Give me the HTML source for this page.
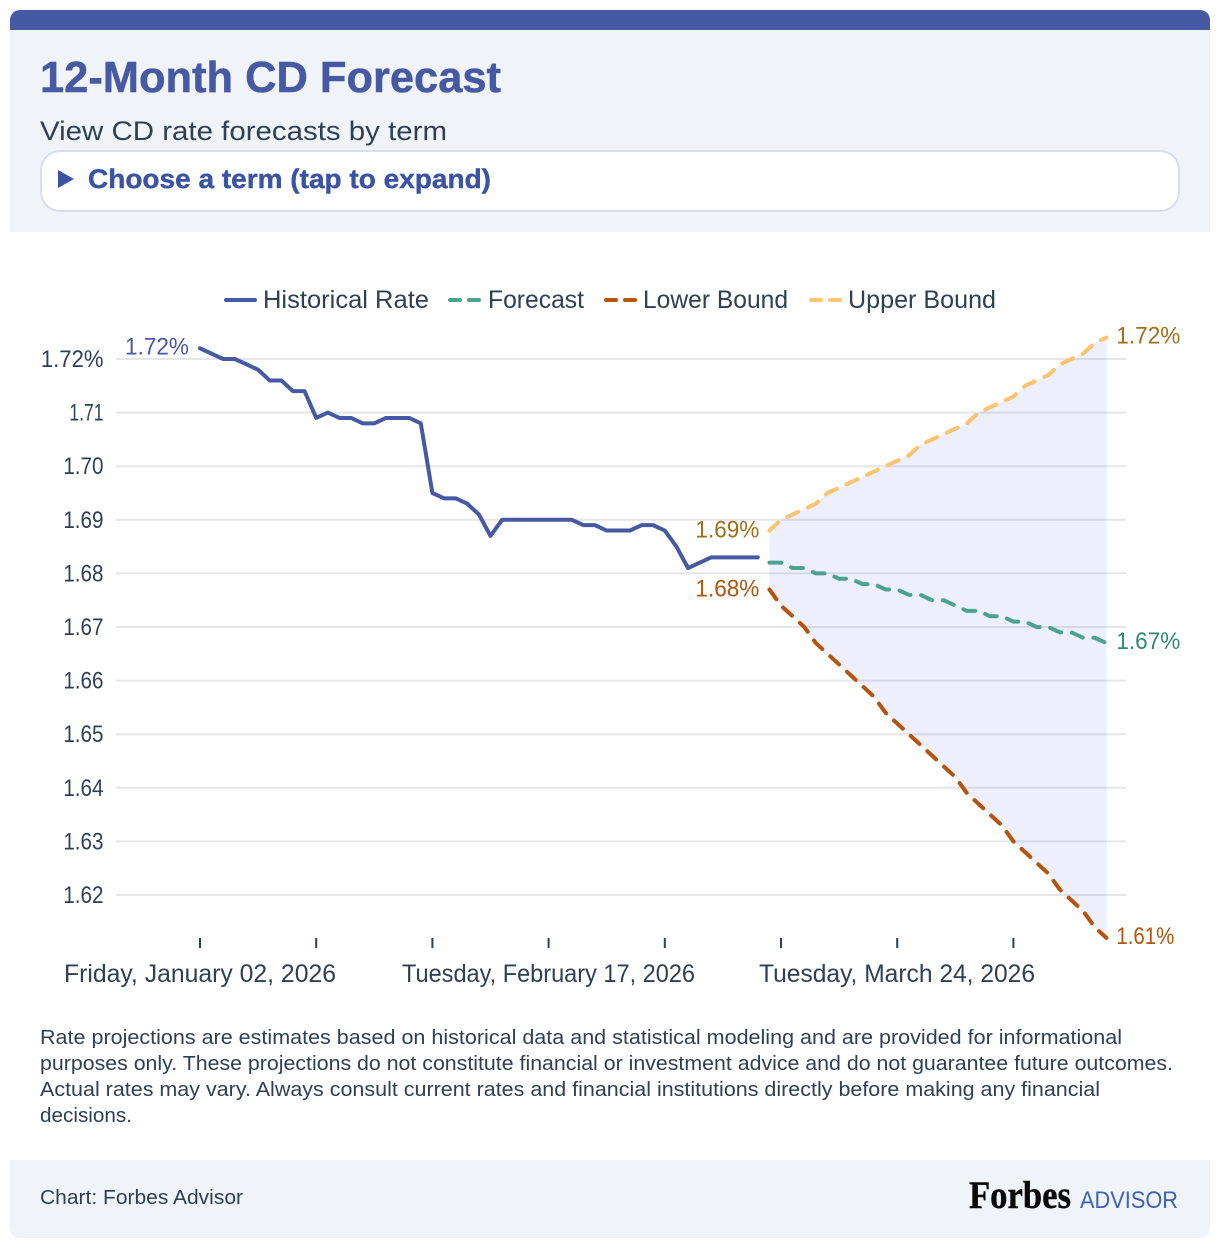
<!DOCTYPE html>
<html lang="en">
<head>
<meta charset="utf-8">
<title>12-Month CD Forecast</title>
<style>
html,body{margin:0;padding:0;background:#fff;width:1220px;height:1248px;overflow:hidden}
body{position:relative;font-family:"Liberation Sans",sans-serif}
.abs{position:absolute;box-sizing:border-box}
svg{position:absolute;left:0;top:0}
text{font-family:"Liberation Sans",sans-serif}
</style>
</head>
<body>
<div class="abs" style="left:10px;top:10px;width:1200px;height:222px;background:#f0f3f8;border-radius:10px 10px 0 0;overflow:hidden">
  <div style="height:20px;background:#4659a3"></div>
</div>
<div class="abs" style="left:40px;top:150px;width:1140px;height:62px;background:#fff;border:2px solid #d9deec;border-radius:20px"></div>
<div class="abs" style="left:10px;top:1160px;width:1200px;height:78px;background:#f0f3f8;border-radius:0 0 10px 10px"></div>

<svg id="chart" width="1220" height="1248" viewBox="0 0 1220 1248">
  <text x="40" y="92" font-size="44" font-weight="700" fill="#4659a3" stroke="#4659a3" stroke-width="0.5" textLength="461" lengthAdjust="spacingAndGlyphs">12-Month CD Forecast</text>
  <text x="40" y="140" font-size="27" fill="#2f3f54" textLength="407" lengthAdjust="spacingAndGlyphs">View CD rate forecasts by term</text>
  <polygon points="58,170 74,179 58,188" fill="#3a53a4"/>
  <text x="88" y="188" font-size="27" font-weight="700" fill="#3a53a4" stroke="#3a53a4" stroke-width="0.4" textLength="403" lengthAdjust="spacingAndGlyphs">Choose a term (tap to expand)</text>

  <g id="grid-layer"></g>
  <g id="ytick-layer"></g>
  <g id="xtick-layer"></g>
  <g font-size="25" fill="#2f3f54" text-anchor="middle">
    <text x="200" y="982" textLength="272" lengthAdjust="spacingAndGlyphs">Friday, January 02, 2026</text>
    <text x="548.5" y="982" textLength="293" lengthAdjust="spacingAndGlyphs">Tuesday, February 17, 2026</text>
    <text x="897" y="982" textLength="276" lengthAdjust="spacingAndGlyphs">Tuesday, March 24, 2026</text>
  </g>
  <g id="mark-layer"></g>
  <g id="annotation-layer"></g>

  <g>
    <line x1="226" y1="300" x2="255" y2="300" stroke="#4659a3" stroke-width="4" stroke-linecap="round"/>
    <text x="263" y="308" font-size="25" fill="#2f3f54" textLength="166" lengthAdjust="spacingAndGlyphs">Historical Rate</text>
    <line x1="450" y1="300" x2="480" y2="300" stroke="#4aa38f" stroke-width="4" stroke-linecap="round" stroke-dasharray="10 9"/>
    <text x="488" y="308" font-size="25" fill="#2f3f54" textLength="96" lengthAdjust="spacingAndGlyphs">Forecast</text>
    <line x1="606" y1="300" x2="636" y2="300" stroke="#b5540c" stroke-width="4" stroke-linecap="round" stroke-dasharray="10 9"/>
    <text x="643" y="308" font-size="25" fill="#2f3f54" textLength="145" lengthAdjust="spacingAndGlyphs">Lower Bound</text>
    <line x1="811" y1="300" x2="841" y2="300" stroke="#fdc36e" stroke-width="4" stroke-linecap="round" stroke-dasharray="10 9"/>
    <text x="848" y="308" font-size="25" fill="#2f3f54" textLength="148" lengthAdjust="spacingAndGlyphs">Upper Bound</text>
  </g>

  <g font-size="20" fill="#2f3f54">
    <text x="40" y="1044" textLength="1082" lengthAdjust="spacingAndGlyphs">Rate projections are estimates based on historical data and statistical modeling and are provided for informational</text>
    <text x="40" y="1070" textLength="1133" lengthAdjust="spacingAndGlyphs">purposes only. These projections do not constitute financial or investment advice and do not guarantee future outcomes.</text>
    <text x="40" y="1096" textLength="1060" lengthAdjust="spacingAndGlyphs">Actual rates may vary. Always consult current rates and financial institutions directly before making any financial</text>
    <text x="40" y="1122" textLength="92" lengthAdjust="spacingAndGlyphs">decisions.</text>
  </g>

  <text x="40" y="1204" font-size="20" fill="#2f3f54" textLength="203" lengthAdjust="spacingAndGlyphs">Chart: Forbes Advisor</text>
  <text x="969" y="1208" font-size="39" font-weight="700" fill="#0a0a0a" stroke="#0a0a0a" stroke-width="0.4" textLength="102" lengthAdjust="spacingAndGlyphs" style="font-family:'Liberation Serif',serif">Forbes</text>
  <text x="1080" y="1208" font-size="24" fill="#3f62b5" textLength="98" lengthAdjust="spacingAndGlyphs">ADVISOR</text>
</svg>

<script>
const yTickValues = [1.72, 1.71, 1.70, 1.69, 1.68, 1.67, 1.66, 1.65, 1.64, 1.63, 1.62];
const yTickLabels = ["1.72%", "1.71", "1.70", "1.69", "1.68", "1.67", "1.66", "1.65", "1.64", "1.63", "1.62"];
const xTickIndices = [0, 10, 20, 30, 40, 50, 60, 70];

const historicalRate = [1.722, 1.721, 1.720, 1.720, 1.719, 1.718, 1.716, 1.716, 1.714, 1.714,
  1.709, 1.710, 1.709, 1.709, 1.708, 1.708, 1.709, 1.709, 1.709, 1.708,
  1.695, 1.694, 1.694, 1.693, 1.691, 1.687, 1.690, 1.690, 1.690, 1.690,
  1.690, 1.690, 1.690, 1.689, 1.689, 1.688, 1.688, 1.688, 1.689, 1.689,
  1.688, 1.685, 1.681, 1.682, 1.683, 1.683, 1.683, 1.683, 1.683];
const forecastRate = [1.682, 1.682, 1.681, 1.681, 1.680, 1.680, 1.679, 1.679, 1.678, 1.678,
  1.677, 1.677, 1.676, 1.676, 1.675, 1.675, 1.674, 1.673, 1.673, 1.672,
  1.672, 1.671, 1.671, 1.670, 1.670, 1.669, 1.669, 1.668, 1.668, 1.667];
const lowerBound = [1.677, 1.674, 1.672, 1.670, 1.667, 1.665, 1.663, 1.661, 1.659, 1.657,
  1.654, 1.652, 1.650, 1.648, 1.646, 1.644, 1.642, 1.639, 1.637, 1.635,
  1.633, 1.630, 1.628, 1.626, 1.624, 1.621, 1.619, 1.617, 1.614, 1.612];
const upperBound = [1.688, 1.690, 1.691, 1.692, 1.693, 1.695, 1.696, 1.697, 1.698, 1.699,
  1.700, 1.701, 1.702, 1.704, 1.705, 1.706, 1.707, 1.708, 1.710, 1.711,
  1.712, 1.713, 1.715, 1.716, 1.717, 1.719, 1.720, 1.721, 1.723, 1.724];

const NS = "http://www.w3.org/2000/svg";
const xScale = function (i) { return 200 + i * 11.62; };
const yScale = function (v) { return 359 + (1.72 - v) * 5360; };
const forecastOffset = historicalRate.length;

function make(tag, parentId) {
  const el = document.createElementNS(NS, tag);
  document.getElementById(parentId).appendChild(el);
  return el;
}
function pathFrom(values, offset) {
  return values.map(function (v, i) {
    return (i ? "L" : "M") + xScale(i + offset).toFixed(2) + " " + yScale(v).toFixed(2);
  }).join(" ");
}
/* The original face has a narrow numeral 1; each repeated "1" tightens the label. */
function fittedWidth(el, factor) {
  const ones = el.textContent.split("1").length - 1;
  return el.getComputedTextLength() * factor - 6 * Math.max(0, ones - 1);
}

yTickValues.forEach(function (v, i) {
  const line = make("line", "grid-layer");
  
  
  line.setAttribute("x1", 116);
  line.setAttribute("x2", 1126);
  line.setAttribute("y1", yScale(v));
  line.setAttribute("y2", yScale(v));
  line.setAttribute("stroke", "#e6e6e8");
  line.setAttribute("stroke-width", 2);

  const label = make("text", "ytick-layer");
  
  
  label.setAttribute("y", yScale(v) + 8);
  label.setAttribute("font-size", 24);
  label.setAttribute("fill", "#2f3f54");
  label.textContent = yTickLabels[i];
  const w = fittedWidth(label, yTickLabels[i].length > 4 ? 0.92 : 0.86);
  label.setAttribute("x", 103.5 - w);
  label.setAttribute("textLength", w);
  label.setAttribute("lengthAdjust", "spacingAndGlyphs");
});

xTickIndices.forEach(function (i) {
  const tick = make("line", "xtick-layer");
  
  
  const tx = xScale(i);
  tick.setAttribute("x1", tx);
  tick.setAttribute("x2", tx);
  tick.setAttribute("y1", 938);
  tick.setAttribute("y2", 948);
  tick.setAttribute("stroke", "#2f3f54");
  tick.setAttribute("stroke-width", 2);
});

const band = make("path", "mark-layer");


const lowerReversed = lowerBound.map(function (v, i) {
  return "L" + xScale(i + forecastOffset).toFixed(2) + " " + yScale(v).toFixed(2);
}).reverse().join(" ");
band.setAttribute("d", pathFrom(upperBound, forecastOffset) + " " + lowerReversed + " Z");
band.setAttribute("fill", "#4a62e0");
band.setAttribute("fill-opacity", "0.1");

const historicalLine = make("path", "mark-layer");


historicalLine.setAttribute("d", pathFrom(historicalRate, 0));
historicalLine.setAttribute("fill", "none");
historicalLine.setAttribute("stroke", "#4659a3");
historicalLine.setAttribute("stroke-width", 4);
historicalLine.setAttribute("stroke-linecap", "round");
historicalLine.setAttribute("stroke-linejoin", "round");

const forecastLine = make("path", "mark-layer");


forecastLine.setAttribute("d", pathFrom(forecastRate, forecastOffset));
forecastLine.setAttribute("fill", "none");
forecastLine.setAttribute("stroke", "#4aa38f");
forecastLine.setAttribute("stroke-width", 4);
forecastLine.setAttribute("stroke-linecap", "round");
forecastLine.setAttribute("stroke-linejoin", "round");
forecastLine.setAttribute("stroke-dasharray", "12 10.7");

const lowerLine = make("path", "mark-layer");


lowerLine.setAttribute("d", pathFrom(lowerBound, forecastOffset));
lowerLine.setAttribute("fill", "none");
lowerLine.setAttribute("stroke", "#b5540c");
lowerLine.setAttribute("stroke-width", 4);
lowerLine.setAttribute("stroke-linecap", "round");
lowerLine.setAttribute("stroke-linejoin", "round");
lowerLine.setAttribute("stroke-dasharray", "12 10.7");

const upperLine = make("path", "mark-layer");


upperLine.setAttribute("d", pathFrom(upperBound, forecastOffset));
upperLine.setAttribute("fill", "none");
upperLine.setAttribute("stroke", "#fdc36e");
upperLine.setAttribute("stroke-width", 4);
upperLine.setAttribute("stroke-linecap", "round");
upperLine.setAttribute("stroke-linejoin", "round");
upperLine.setAttribute("stroke-dasharray", "12 10.7");

function annotate(name, value, index, dx, dy, anchor, color) {
  const t = make("text", "annotation-layer");
  
  
  t.setAttribute("x", xScale(index) + dx);
  t.setAttribute("y", yScale(value) + dy);
  t.setAttribute("font-size", 24);
  t.setAttribute("fill", color);
  t.setAttribute("text-anchor", anchor);
  t.textContent = value.toFixed(2) + "%";
  t.setAttribute("textLength", fittedWidth(t, 0.94));
  t.setAttribute("lengthAdjust", "spacingAndGlyphs");
}
annotate("annotation-historical-start", historicalRate[0], 0, -11, 6, "end", "#4659a3");
annotate("annotation-upper-start", upperBound[0], forecastOffset, -10, 7, "end", "#a06f17");
annotate("annotation-lower-start", lowerBound[0], forecastOffset, -10, 7, "end", "#b5540c");
annotate("annotation-upper-end", upperBound[29], forecastOffset + 29, 10, 6, "start", "#a06f17");
annotate("annotation-forecast-end", forecastRate[29], forecastOffset + 29, 10, 6, "start", "#2f8a72");
annotate("annotation-lower-end", lowerBound[29], forecastOffset + 29, 10, 6, "start", "#b5540c");
</script>
</body>
</html>
